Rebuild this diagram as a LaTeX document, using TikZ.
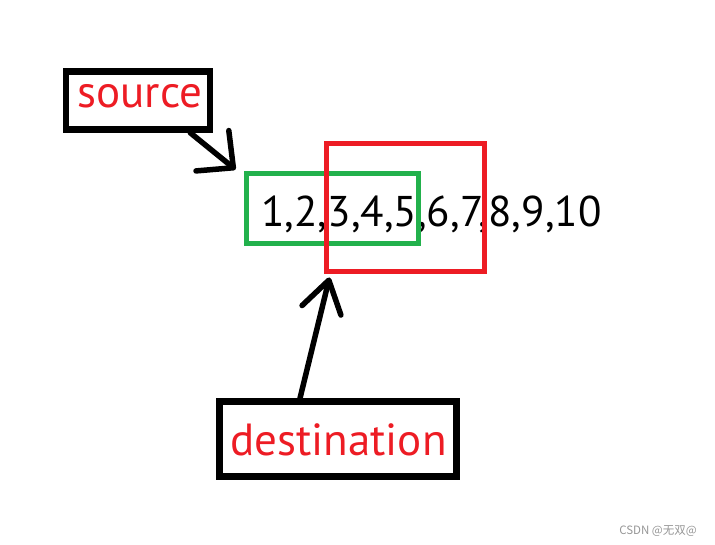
\documentclass[tikz,border=0pt]{standalone}
\usepackage{fontspec}
\setmainfont{PT Sans}
\newfontfamily\cjkfont{Noto Sans CJK SC}
\usetikzlibrary{arrows.meta}
\definecolor{rosso}{RGB}{237,28,36}
\definecolor{verde}{RGB}{34,177,76}
\definecolor{grigio}{RGB}{150,150,150}

\begin{document}
\begin{tikzpicture}[x=1pt,y=-1pt,
  scatola/.style={draw=black,line width=6.5pt,inner sep=0pt},
  cornice/.style={draw=#1,line width=5pt,inner sep=0pt},
  freccia/.style={line width=5.5pt,line cap=round,line join=round},
  scritta/.style={text=rosso,font=\fontsize{45}{52}\selectfont,inner sep=0pt}]
\useasboundingbox (0,0) rectangle (715,545);

% le due etichette
\node[scatola,minimum width=144pt,minimum height=58pt] (sorg) at (138,100.5) {};
\node[scritta,anchor=base] (sorgtxt) at (140,108) {source};
\node[scatola,minimum width=237pt,minimum height=75pt] (dest) at (338,439) {};
\node[scritta,anchor=base] (desttxt) at (338.5,455) {destination};

% la sequenza e le due finestre
\node[inner sep=0pt,anchor=base,font=\fontsize{43}{50}\selectfont] (seq) at (431.5,227) {1,2,3,4,5,6,7,8,9,10};
\node[cornice=verde,minimum width=172.5pt,minimum height=70.5pt] (verde) at (332.25,208.75) {};
\node[cornice=rosso,minimum width=158pt,minimum height=128pt] (rosso) at (405.5,207.5) {};

\draw[freccia,-{Straight Barb[length=27pt,width=52pt,round]}]
  ([xshift=-23pt]sorg.south east) -- ([xshift=-8pt,yshift=1.5pt]verde.north west);
\draw[freccia,-{Straight Barb[length=31pt,width=40pt,round]}]
  ([xshift=-38pt]dest.north) -- ([xshift=5.5pt,yshift=-3.5pt]rosso.south west);

\node[text=grigio,inner sep=0pt,anchor=base,font=\cjkfont\fontsize{11.5}{14}\selectfont] (csdn) at (658,534) {CSDN @无双@};
\end{tikzpicture}
\end{document}
